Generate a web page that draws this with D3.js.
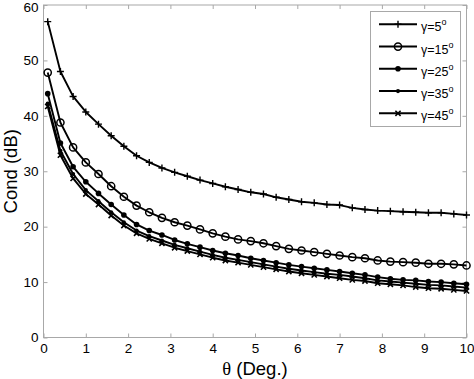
<!DOCTYPE html>
<html>
<head>
<meta charset="utf-8">
<script src="https://d3js.org/d3.v7.min.js"></script>
<style>
  html, body { margin: 0; padding: 0; background: #fff; }
  svg { display: block; font-family: "Liberation Sans", Arial, Helvetica, sans-serif; }
</style>
</head>
<body>
<svg id="chart" width="474" height="379"></svg>
<script>
// ---- data ----
const thetaValues = [0.1,0.4,0.7,1.0,1.3,1.6,1.9,2.2,2.5,2.8,3.1,3.4,3.7,4.0,4.3,4.6,4.9,5.2,5.5,5.8,6.1,6.4,6.7,7.0,7.3,7.6,7.9,8.2,8.5,8.8,9.1,9.4,9.7,10.0];
const seriesNames = ["5", "15", "25", "35", "45"];
const gamma5  = [57.0,48.0,43.5,40.7,38.5,36.4,34.5,32.8,31.6,30.6,29.8,29.1,28.4,27.8,27.2,26.7,26.2,25.9,25.3,24.9,24.5,24.3,24.0,23.9,23.4,23.1,22.9,22.8,22.7,22.6,22.5,22.5,22.3,22.1];
const gamma15 = [47.8,38.8,34.3,31.6,29.5,27.3,25.4,23.8,22.6,21.6,20.8,20.2,19.5,18.8,18.2,17.7,17.4,17.0,16.5,16.0,15.7,15.4,15.1,14.8,14.5,14.3,13.9,13.7,13.6,13.5,13.3,13.3,13.2,13.0];
const gamma25 = [44.0,35.1,30.8,28.1,26.0,24.0,22.1,20.4,19.3,18.5,17.6,16.9,16.3,15.7,15.2,14.8,14.3,13.9,13.5,13.1,12.8,12.5,12.2,11.9,11.6,11.3,10.9,10.6,10.4,10.3,10.1,10.0,9.8,9.6];
const gamma35 = [42.2,33.7,29.5,26.6,24.6,22.6,20.8,19.3,18.3,17.5,16.7,16.1,15.5,14.9,14.4,14.0,13.6,13.2,12.8,12.4,12.1,11.8,11.5,11.3,11.0,10.7,10.3,10.1,9.9,9.7,9.5,9.4,9.2,9.0];
const gamma45 = [41.7,32.9,28.7,25.9,24.0,22.0,20.2,18.8,17.8,17.0,16.2,15.6,15.0,14.4,13.9,13.5,13.1,12.7,12.3,11.9,11.6,11.3,11.0,10.7,10.4,10.2,9.8,9.6,9.4,9.1,8.9,8.8,8.6,8.4];
const xTicks = [0,1,2,3,4,5,6,7,8,9,10];
const yTicks = [0,10,20,30,40,50,60];
const markerTypes = ["plus", "circle", "dot", "smalldot", "cross"];
const allSeries = [gamma5, gamma15, gamma25, gamma35, gamma45];

// ---- layout ----
const svg = d3.select("#chart");
const L = 43.5, R = 466.5, T = 5, B = 337.5;
const x = d3.scaleLinear().domain([0, 10]).range([L, R]);
const y = d3.scaleLinear().domain([0, 60]).range([B, T]);
const axisColor = "#a8a8a8";

// box
svg.append("rect").attr("x", L).attr("y", T).attr("width", R - L).attr("height", B - T)
  .attr("fill", "none").attr("stroke", axisColor).attr("stroke-width", 1);

// axes with inward ticks
const gx = svg.append("g").attr("transform", `translate(0,${B})`)
  .call(d3.axisBottom(x).tickValues(xTicks).tickSizeInner(-4).tickSizeOuter(0).tickPadding(6).tickFormat(d3.format("d")));
const gxTop = svg.append("g").attr("transform", `translate(0,${T})`)
  .call(d3.axisTop(x).tickValues(xTicks).tickSizeInner(-4).tickSizeOuter(0).tickFormat(""));
const gy = svg.append("g").attr("transform", `translate(${L},0)`)
  .call(d3.axisLeft(y).tickValues(yTicks).tickSizeInner(-4).tickSizeOuter(0).tickPadding(5).tickFormat(d3.format("d")));
const gyR = svg.append("g").attr("transform", `translate(${R},0)`)
  .call(d3.axisRight(y).tickValues(yTicks).tickSizeInner(-4).tickSizeOuter(0).tickFormat(""));
[gx, gxTop, gy, gyR].forEach(g => {
  g.select(".domain").remove();
  g.selectAll(".tick line").attr("stroke", axisColor);
  g.selectAll(".tick text").attr("fill", "#000").attr("font-size", 13.5)
    .attr("font-family", "'Liberation Sans', Arial, sans-serif");
});
gx.selectAll(".tick text").attr("dy", "0.71em");
// keep the top label inside the picture
gy.selectAll(".tick text").filter(d => d === 60).attr("dy", "0.5em");

// axis labels
svg.append("text").attr("x", 255).attr("y", 375).attr("text-anchor", "middle")
  .attr("font-size", 18.5)
  .call(t => {
    t.append("tspan").attr("font-family", "'Liberation Serif', 'DejaVu Serif', serif").text("θ");
    t.append("tspan").text(" (Deg.)");
  });
svg.append("text").attr("transform", `translate(17,${(T + B) / 2}) rotate(-90)`)
  .attr("text-anchor", "middle").attr("font-size", 18.5).text("Cond (dB)");

// markers
function drawMarker(g, type, cx, cy) {
  if (type === "plus") {
    g.append("path").attr("d", `M${cx-3.5},${cy}H${cx+3.5}M${cx},${cy-3.5}V${cy+3.5}`)
      .attr("stroke", "#000").attr("stroke-width", 1.4);
  } else if (type === "circle") {
    g.append("circle").attr("cx", cx).attr("cy", cy).attr("r", 3.6)
      .attr("fill", "none").attr("stroke", "#000").attr("stroke-width", 1.5);
  } else if (type === "dot") {
    g.append("circle").attr("cx", cx).attr("cy", cy).attr("r", 2.8).attr("fill", "#000");
  } else if (type === "smalldot") {
    g.append("circle").attr("cx", cx).attr("cy", cy).attr("r", 2.1).attr("fill", "#000");
  } else if (type === "cross") {
    g.append("path").attr("d", `M${cx-2.6},${cy-2.6}L${cx+2.6},${cy+2.6}M${cx-2.6},${cy+2.6}L${cx+2.6},${cy-2.6}`)
      .attr("stroke", "#000").attr("stroke-width", 1.6);
  }
}

const line = d3.line().x(d => x(d[0])).y(d => y(d[1]));
const plot = svg.append("g");
allSeries.forEach((vals, i) => {
  const pts = thetaValues.map((t, k) => [t, vals[k]]);
  const g = plot.append("g");
  g.append("path").datum(pts).attr("d", line).attr("fill", "none")
    .attr("stroke", "#000").attr("stroke-width", 1.9).attr("stroke-linejoin", "round");
  pts.forEach(p => drawMarker(g, markerTypes[i], x(p[0]), y(p[1])));
});

// legend
const lg = svg.append("g");
lg.append("rect").attr("x", 370.5).attr("y", 11.5).attr("width", 90).attr("height", 115)
  .attr("fill", "#fff").attr("stroke", axisColor).attr("stroke-width", 1);
seriesNames.forEach((name, i) => {
  const ry = 24.3 + i * 22.25;
  lg.append("line").attr("x1", 379).attr("x2", 417).attr("y1", ry).attr("y2", ry)
    .attr("stroke", "#000").attr("stroke-width", 1.9);
  drawMarker(lg, markerTypes[i], 398, ry);
  const t = lg.append("text").attr("x", 421).attr("y", ry + 7).attr("font-size", 12.5);
  t.append("tspan").text("γ=" + name);
  t.append("tspan").attr("font-size", 9).attr("dy", -6).text("o");
});
</script>
</body>
</html>
